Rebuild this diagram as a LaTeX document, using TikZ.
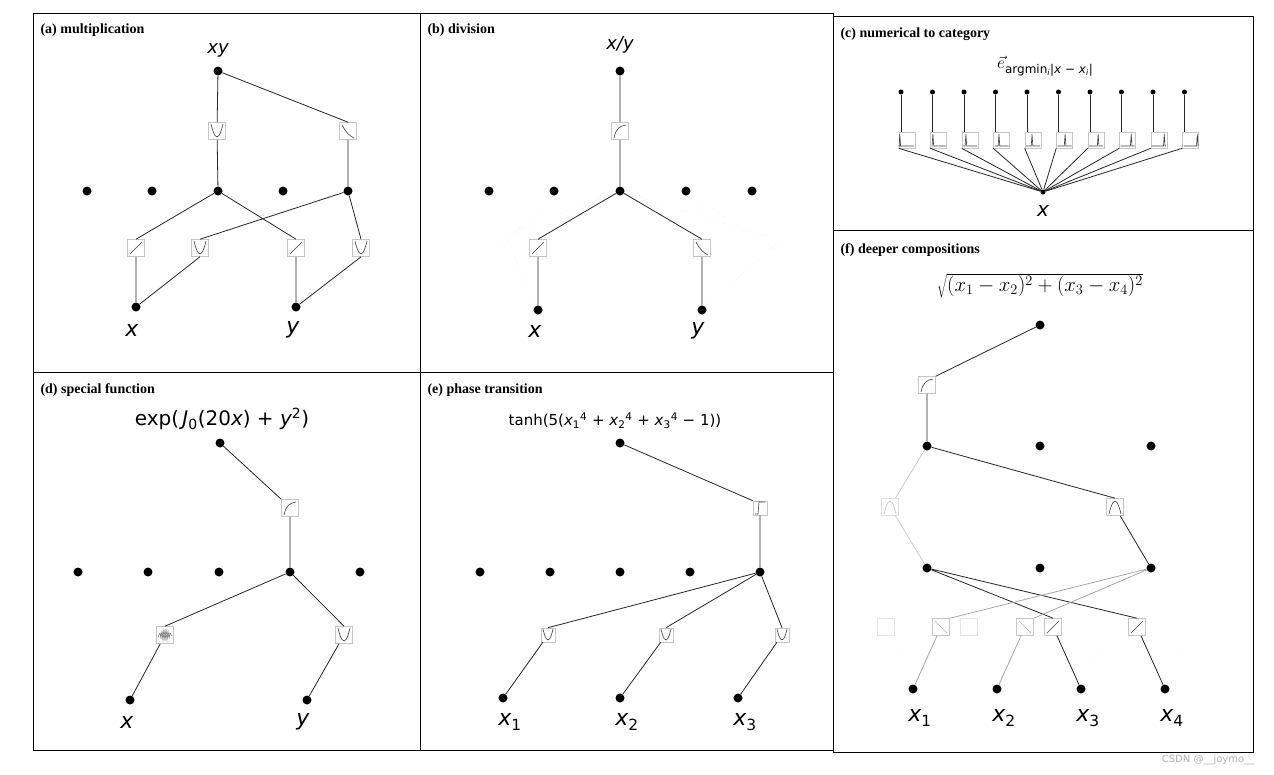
\documentclass[tikz,border=0pt]{standalone}
\usepackage{fontspec}
\usetikzlibrary{calc}
\setmainfont{Liberation Serif}
\newfontfamily\lab{DejaVu Sans}
\begin{document}
\begin{tikzpicture}[x=1pt,y=-1pt,
  dot/.style={circle,fill=black,inner sep=0,minimum size=9pt},
  sdot/.style={circle,fill=black,inner sep=0,minimum size=5pt},
  fb/.style={rectangle,draw=gray!45,line width=0.6pt,inner sep=0,minimum size=17pt},
  e/.style={line width=0.8pt,black!85},
  lt/.style={line width=0.8pt,gray!40},
  md/.style={line width=0.8pt,gray!70},
  ttl/.style={anchor=north west,font=\bfseries\fontsize{14}{16}\selectfont},
  lbl/.style={font=\lab\itshape\fontsize{22}{24}\selectfont},
  gl/.style={line width=0.6pt,black!75},
  linup/.pic={\draw[gl] (-6,6)--(6,-6);},
  lindn/.pic={\draw[gl] (-6,-6)--(6,6);},
  para/.pic={\draw[gl] (-6,-7) parabola bend (0,6) (6,-7);},
  cap/.pic={\draw[gl] (-6,7) parabola bend (0,-6) (6,7);},
  sqrtc/.pic={\draw[gl] (-6,7) .. controls (-4,-3) and (0,-5) .. (6,-6);},
  decc/.pic={\draw[gl] (-6,-6) .. controls (-2,2) and (2,5) .. (6,7);},
  wig/.pic={\draw[gl,line width=0.4pt] (-7,2)--(-5,-2)--(-4,3)--(-3,-4)--(-2,5)--(-1,-6)--(0,6)--(1,-6)--(2,5)--(3,-4)--(4,3)--(5,-2)--(7,1);},
]
\useasboundingbox (0,0) rectangle (1274,774);
% panel frames
\draw[line width=0.8pt] (33,13) rectangle (420,372);
\draw[line width=0.8pt] (420,13) rectangle (833,372);
\draw[line width=0.8pt] (833,16) rectangle (1253,230);
\draw[line width=0.8pt] (33,372) rectangle (420,750);
\draw[line width=0.8pt] (420,372) rectangle (833,750);
\draw[line width=0.8pt] (833,230) rectangle (1253,752);

% ---------- (a)
\node[ttl] (ta) at (37,20) {(a) multiplication};
\node[dot] (a0) at (218,71) {};
\node[lbl,font=\lab\itshape\fontsize{18}{20}\selectfont] (la0) at (218,50) {xy};
\node[fb] (ab1) at (217,131) {}; \pic at (ab1) {para};
\node[fb] (ab2) at (348,131) {}; \pic at (ab2) {decc};
\foreach \x/\n in {87/1,152/2,218/3,283/4,348/5} \node[dot] (am\n) at (\x,191) {};
\node[fb] (ac1) at (136,248) {}; \pic at (ac1) {linup};
\node[fb] (ac2) at (200,248) {}; \pic at (ac2) {para};
\node[fb] (ac3) at (296,248) {}; \pic at (ac3) {linup};
\node[fb] (ac4) at (361,248) {}; \pic at (ac4) {para};
\node[dot] (ax) at (136,307) {};
\node[dot] (ay) at (296,307) {};
\node[lbl] (lax) at (132,330) {x};
\node[lbl] (lay) at (293,330) {y};
\draw[e] (a0)--(ab1) (a0)--(ab2.north) (ab1)--(am3) (ab2)--(am5)
  (am3)--(ac1.north) (am3)--(ac3.north) (am5)--(ac2.north) (am5)--(ac4.north)
  (ac1)--(ax) (ac2.south)--(ax) (ac3)--(ay) (ac4.south)--(ay);

% ---------- (b)
\node[ttl] (tb) at (424,20) {(b) division};
\node[dot] (b0) at (620,71) {};
\node[lbl,font=\lab\itshape\fontsize{18}{20}\selectfont] (lb0) at (620,45) {x/y};
\node[fb] (bb1) at (620,131) {}; \pic at (bb1) {sqrtc};
\foreach \x/\n in {489/1,554/2,620/3,686/4,752/5} \node[dot] (bm\n) at (\x,191) {};
\node[fb] (bc1) at (538,248) {}; \pic at (bc1) {linup};
\node[fb] (bc2) at (702,248) {}; \pic at (bc2) {decc};
\node[dot] (bx) at (538,310) {};
\node[dot] (by) at (702,310) {};
\node[lbl] (lbx) at (535,331) {x};
\node[lbl] (lby) at (698,331) {y};
\draw[e] (b0)--(bb1) (bb1)--(bm3) (bm3)--(bc1.north) (bm3)--(bc2.north) (bc1)--(bx) (bc2)--(by);
\draw[gray!25,dotted] (bm3)--(505,235)--(bx) (bm3)--(780,240)--(by) (bm2)--(500,250) (bm4)--(775,250);

% ---------- (c)
\node[ttl] (tc) at (837,24) {(c) numerical to category};
\node[font=\lab\fontsize{18}{20}\selectfont] (lc) at (1045,66) {$\vec{e}$\raisebox{-0.5ex}{\fontsize{12}{13}\selectfont argmin\textsubscript{\itshape i}|\itshape x\upshape~−~\itshape x\textsubscript{i}\upshape|}};
\node[sdot] (cx) at (1043,192) {};
\node[lbl,font=\lab\itshape\fontsize{20}{22}\selectfont] (lcx) at (1043,211) {x};
\foreach \i in {0,...,9}{
  \pgfmathsetmacro\xx{901+31.5*\i}
  \pgfmathsetmacro\sp{-7+14*\i/9}
  \node[sdot] (ct\i) at (\xx,92) {};
  \node[fb,minimum size=16pt] (cb\i) at (\xx+6,140) {};
  \draw[gl] ($(cb\i)+(-7,6)$) -- ++(\sp+6,0) -- ++(0.8,-12) -- ++(0.8,12) -- ($(cb\i)+(7,6)$);
  \draw[e] (ct\i)--(\xx,132);
  \draw[e] (cx)--(cb\i.south west);
}

% ---------- (d)
\node[ttl] (td) at (37,380) {(d) special function};
\node[dot] (d0) at (220,443) {};
\node[font=\lab\fontsize{20}{22}\selectfont] (ld0) at (222,419) {exp(\,\itshape J\upshape\textsubscript{0}(20\itshape x\upshape) + \itshape y\upshape\textsuperscript{2})};
\node[fb] (db1) at (290,508) {}; \pic at (db1) {sqrtc};
\foreach \x/\n in {78/1,148/2,219/3,290/4,360/5} \node[dot] (dm\n) at (\x,572) {};
\node[fb] (dc1) at (165,635) {}; \pic at (dc1) {wig};
\node[fb] (dc2) at (344,635) {}; \pic at (dc2) {para};
\node[dot] (dx) at (130,700) {};
\node[dot] (dy) at (307,700) {};
\node[lbl] (ldx) at (127,722) {x};
\node[lbl] (ldy) at (303,722) {y};
\draw[e] (d0)--(db1.north west) (db1)--(dm4) (dm4)--(dc1.north) (dm4)--(dc2.north) (dc1)--(dx) (dc2)--(dy);

% ---------- (e)
\node[ttl] (te) at (424,380) {(e) phase transition};
\node[dot] (e0) at (620,443) {};
\node[font=\lab\fontsize{15}{17}\selectfont] (le0) at (615,421) {tanh(5(\itshape x\upshape\textsubscript{1}\textsuperscript{4} + \itshape x\upshape\textsubscript{2}\textsuperscript{4} + \itshape x\upshape\textsubscript{3}\textsuperscript{4} − 1))};
\node[fb,minimum size=14pt] (eb1) at (760,508) {}; \draw[gl] (755,514)--(758,514)--(759,502)--(765,502);
\foreach \x/\n in {480/1,550/2,620/3,690/4,760/5} \node[dot] (em\n) at (\x,572) {};
\foreach \x/\n in {548/1,666/2,782/3}{
  \node[fb,minimum size=14pt] (ec\n) at (\x,635) {}; \draw[gl] (\x-5,629) parabola bend (\x,640) (\x+5,629);}
\foreach \x/\n in {503/1,620/2,738/3} \node[dot] (ex\n) at (\x,698) {};
\node[lbl] (lex1) at (510,722) {x\textsubscript{\upshape 1}};
\node[lbl] (lex2) at (627,722) {x\textsubscript{\upshape 2}};
\node[lbl] (lex3) at (745,722) {x\textsubscript{\upshape 3}};
\draw[e] (e0)--(eb1.north west) (eb1)--(em5) (em5)--(ec1.north) (em5)--(ec2.north) (em5)--(ec3.north)
  (ec1)--(ex1) (ec2)--(ex2) (ec3)--(ex3);

% ---------- (f)
\node[ttl] (tf) at (837,240) {(f) deeper compositions};
\node (lf) at (1040,286) {\fontsize{21}{23}\selectfont $\sqrt{(x_1-x_2)^2+(x_3-x_4)^2}$};
\node[dot] (f0) at (1040,325) {};
\node[fb] (fb1) at (927,385) {}; \pic at (fb1) {sqrtc};
\foreach \x/\n in {927/1,1040/2,1151/3} \node[dot] (fm\n) at (\x,446) {};
\node[fb,draw=gray!25] (fc1) at (890,507) {}; \draw[gl,gray!50] (884,514) parabola bend (890,501) (896,514);
\node[fb] (fc2) at (1115,507) {}; \pic at (fc2) {cap};
\foreach \x/\n in {927/1,1040/2,1151/3} \node[dot] (fn\n) at (\x,568) {};
\node[fb,draw=gray!20] (fg1) at (886,627) {};
\node[fb,draw=gray!20] (fg2) at (969,627) {};
\node[fb] (fd1) at (941,627) {}; \draw[gl,gray!60] (935,621)--(947,633);
\node[fb] (fd2) at (1025,627) {}; \draw[gl,gray!60] (1019,621)--(1031,633);
\node[fb] (fd3) at (1053,627) {}; \pic at (fd3) {linup};
\node[fb] (fd4) at (1137,627) {}; \pic at (fd4) {linup};
\foreach \x/\n in {913/1,997/2,1081/3,1165/4} \node[dot] (fx\n) at (\x,689) {};
\node[lbl] (lfx1) at (920,718) {x\textsubscript{\upshape 1}};
\node[lbl] (lfx2) at (1004,718) {x\textsubscript{\upshape 2}};
\node[lbl] (lfx3) at (1088,718) {x\textsubscript{\upshape 3}};
\node[lbl] (lfx4) at (1172,718) {x\textsubscript{\upshape 4}};
\draw[e] (f0)--(fb1.north east) (fb1)--(fm1) (fm1)--(fc2.north) (fc2)--(fn3)
  (fn1)--(fd3.north) (fn1)--(fd4.north) (fd3)--(fx3) (fd4)--(fx4);
\draw[lt] (fm1)--(fc1) (fc1)--(fn1);
\draw[md] (fn3)--(fd1.north east) (fn3)--(fd2.north east) (fd1)--(fx1) (fd2)--(fx2);
\draw[gray!15,dotted] (fn1)--(fg1) (fn1)--(fg2) (fg1)--(fx1) (fg2)--(fx2) (fn3)--(1190,627)--(fx4) (fn3)--(1110,627)--(fx3);

\node[font=\lab\fontsize{10}{11}\selectfont,gray!60] (wm) at (1208,760) {CSDN @\_\_joymo\_\_};
\end{tikzpicture}
\end{document}
